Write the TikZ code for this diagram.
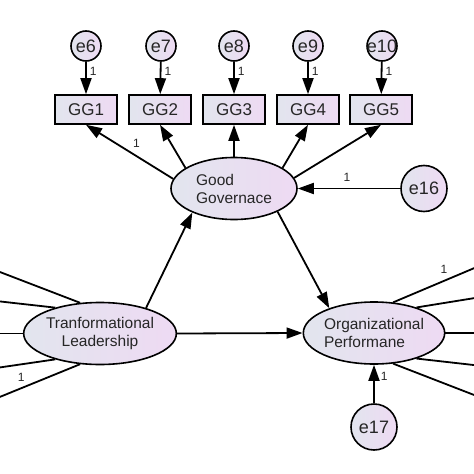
\documentclass[tikz,border=0pt]{standalone}
\usepackage{fontspec}
\setmainfont{Liberation Sans}
\usetikzlibrary{arrows.meta,shapes.geometric}
\definecolor{shL}{RGB}{226,229,238}
\definecolor{shR}{RGB}{238,218,243}
\begin{document}
\begin{tikzpicture}[x=1pt,y=-1pt,
  fillgrad/.style={draw=black, line width=1.6pt, left color=shL, right color=shR, text=black!85},
  err/.style={fillgrad, circle, minimum size=30pt, inner sep=0pt, font=\fontsize{18}{18}\selectfont},
  bigerr/.style={err, minimum size=46pt},
  obs/.style={fillgrad, rectangle, minimum width=62pt, minimum height=29pt, inner sep=0pt, font=\fontsize{17}{17}\selectfont},
  lat/.style={fillgrad, ellipse, minimum width=126pt, minimum height=62pt, inner sep=0pt, font=\fontsize{15.5}{18}\selectfont},
  conn/.style={line width=1.8pt, -{Triangle[length=16pt,width=11pt]}},
  plainline/.style={line width=1.8pt},
  one/.style={font=\fontsize{12}{12}\selectfont, inner sep=1pt, text=black!85}
]
\useasboundingbox (0,0) rectangle (474,474);
% error terms
\node[err] (e6) at (86,46) {e6};
\node[err] (e7) at (161,46) {e7};
\node[err] (e8) at (234,46) {e8};
\node[err] (e9) at (308,46) {e9};
\node[err] (e10) at (382,46) {\makebox[0pt]{e10}};
% observed
\node[obs] (g1) at (86,109.5) {GG1};
\node[obs] (g2) at (160,109.5) {GG2};
\node[obs] (g3) at (234,109.5) {GG3};
\node[obs] (g4) at (308,109.5) {GG4};
\node[obs] (g5) at (381,109.5) {GG5};
% latent
\node[lat, align=left] (GG) at (234,188.5) {Good\\Governace};
\node[bigerr] (e16) at (424,188.5) {e16};
\node[lat, align=center] (TL) at (100,333.5) {Tranformational\\Leadership};
\node[lat, align=left] (OP) at (374,333) {Organizational\\Performane};
\node[bigerr] (e17) at (374,427) {e17};
% free ends
\coordinate (l1) at (-4,270.5);
\coordinate (l2) at (-4,301);
\coordinate (l3) at (-4,333.5);
\coordinate (l4) at (-4,368);
\coordinate (l5) at (-4,398.5);
\coordinate (r1) at (478,266.5);
\coordinate (r2) at (478,297.5);
\coordinate (r3) at (478,333);
\coordinate (r4) at (478,365.5);
\coordinate (r5) at (478,396.5);
% e -> GG boxes
\draw[conn] (e6) -- node[one, pos=0.3, right=2pt] {1} (g1);
\draw[conn] (e7) -- node[one, pos=0.3, right=2pt] {1} (g2);
\draw[conn] (e8) -- node[one, pos=0.3, right=2pt] {1} (g3);
\draw[conn] (e9) -- node[one, pos=0.3, right=2pt] {1} (g4);
\draw[conn] (e10) -- node[one, pos=0.3, right=2pt] {1} (g5);
% GG -> boxes
\draw[conn] (GG.171) -- node[one, pos=0.42, above=7pt] {1} (g1.south);
\draw[conn] (GG.157) -- (g2.south);
\draw[conn] (GG.90) -- (g3.south);
\draw[conn] (GG.23) -- (g4.south);
\draw[conn] (GG.10) -- (g5.south);
% structural
\draw[conn] (e16) -- node[one, pos=0.52, above=5pt] {1} (GG.east);
\draw[conn] (TL.29) -- (GG.210);
\draw[conn] (GG.332) -- (OP.151);
\draw[conn] (TL.east) -- (OP.west);
\draw[conn] (e17) -- node[one, pos=0.7, right=5pt] {1} (OP.south);
% TL indicators (off-canvas)
\draw[plainline] (l1) -- (TL.123);
\draw[plainline] (l2) -- (TL.150);
\draw[plainline] (l3) -- (TL.180);
\draw[plainline] (l4) -- (TL.210);
\draw[plainline] (l5) -- node[one, pos=0.3, above=5pt] {1} (TL.237);
% OP indicators (off-canvas)
\draw[plainline] (OP.58) -- node[one, pos=0.6, above=5pt] {1} (r1);
\draw[plainline] (OP.31) -- (r2);
\draw[plainline] (OP.0) -- (r3);
\draw[plainline] (OP.-31) -- (r4);
\draw[plainline] (OP.-58) -- (r5);
\end{tikzpicture}
\end{document}
